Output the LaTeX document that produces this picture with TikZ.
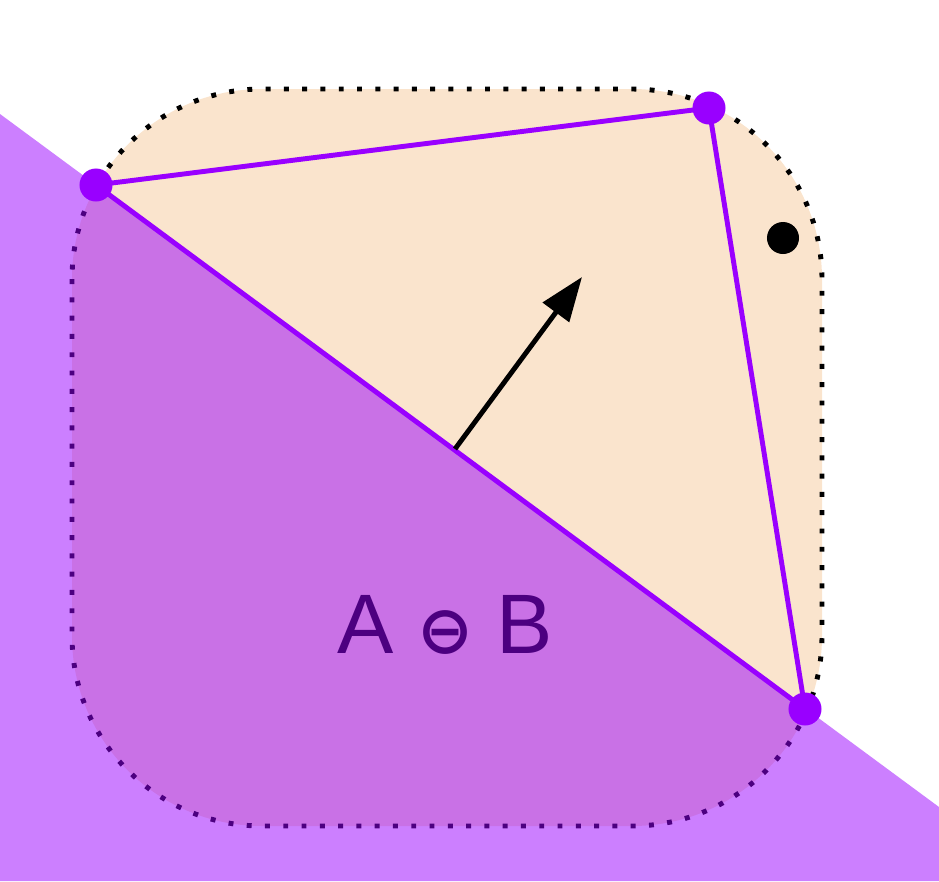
\documentclass[tikz,border=0pt]{standalone}
\usepackage{fontspec}
\setmainfont{Liberation Sans}
\newfontfamily\opfont{DejaVu Sans}
\usetikzlibrary{arrows.meta}

\definecolor{setfill}{RGB}{250,228,205}
\definecolor{hullpurple}{RGB}{153,0,255}

\begin{document}
\begin{tikzpicture}[x=0.01cm, y=-0.01cm, >={Triangle[length=0.44cm,width=0.32cm]}]
    \useasboundingbox (0,0) rectangle (939,881);

        % Rounded set
        \draw[fill=setfill, line width=1.4pt, dash pattern=on 1.4pt off 3.8pt,
              rounded corners=1.9cm] (72,89) rectangle (822,826);

        % Label
        \node[font=\fontsize{24}{24}\selectfont, anchor=base] (label) at (445,653)
            {A {\opfont\bfseries\fontsize{19}{19}\selectfont ⊖} B};

        % Vertices
        \coordinate (P) at (96,185);
        \coordinate (Q) at (709,108);
        \coordinate (R) at (805,709);

        % Half-plane
        \coordinate (H0) at (0,114);
        \coordinate (H1) at (939,807);
        \fill[hullpurple, opacity=0.5] (H0) -- (H1) -- (939,881) -- (0,881) -- cycle;

        % Triangle
        \draw[hullpurple, line width=1.4pt] (P) -- (Q) -- (R) -- cycle;
        \foreach \v in {P,Q,R}
            \fill[hullpurple] (\v) circle (0.165cm);

        % Point
        \coordinate (X) at (783,238);
        \fill (X) circle (0.16cm);

        % Normal
        \coordinate (N0) at (455,449);
        \coordinate (N1) at (582,277);
        \draw[->, line width=1.4pt] (N0) -- (N1);

    \end{tikzpicture}
\end{document}
